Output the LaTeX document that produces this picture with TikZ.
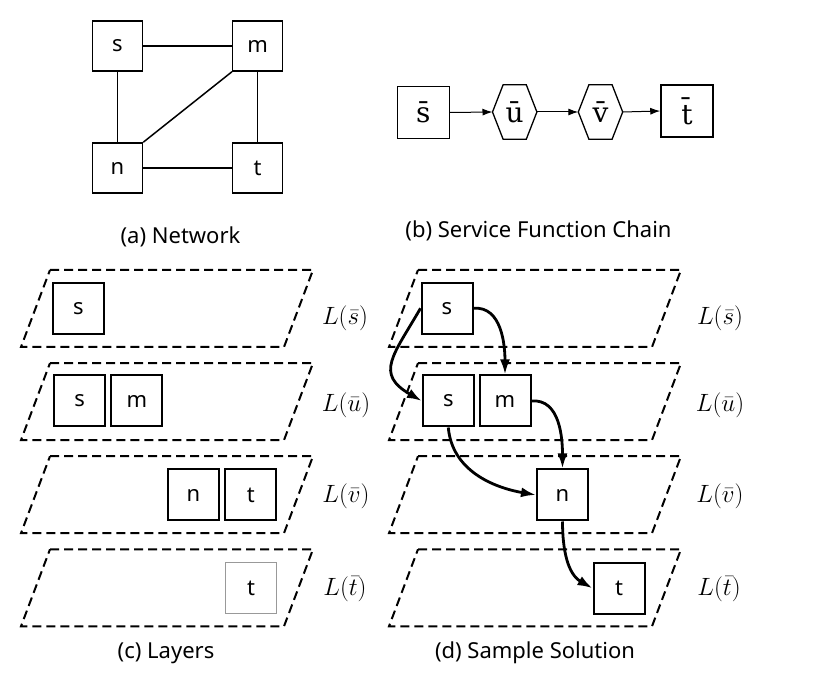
\RequirePackage{fix-cm}
\documentclass[tikz,border=0pt]{standalone}
\usepackage{fontspec}
\setmainfont{Noto Sans}
\newfontfamily\serifb{DejaVu Serif}
\usetikzlibrary{arrows.meta,calc}
\begin{document}
\begin{tikzpicture}[x=1pt,y=1pt,
  every node/.style={font=\fontsize{22}{26}\selectfont},
  netbox/.style={draw, line width=1.5pt, minimum width=50pt, minimum height=50pt, inner sep=0pt},
  netedge/.style={line width=1.5pt},
  sfcbox/.style={draw, line width=1.5pt, minimum width=52pt, minimum height=52pt, inner sep=0pt, font=\fontsize{28}{32}\selectfont\serifb},
  hexnode/.style={minimum width=44pt, minimum height=54pt, inner sep=0pt, font=\fontsize{28}{32}\selectfont\serifb},
  sfcarrow/.style={line width=1pt, -{Latex[length=10pt,width=7pt]}},
  layerbox/.style={draw, line width=2pt, minimum width=51pt, minimum height=51pt, inner sep=0pt},
  greybox/.style={draw=black!40, line width=1pt, minimum width=51pt, minimum height=51pt, inner sep=0pt},
  layer/.style={line width=2pt, dash pattern=on 9pt off 5pt},
  solarrow/.style={line width=2.8pt, -{Latex[length=15pt,width=10pt]}},
  laylabel/.style={font=\fontsize{25}{30}\selectfont},
]
\useasboundingbox (0,0) rectangle (831,-692);

% (a) Network
\node[netbox] (as) at (117.5,-46) {s};
\node[netbox] (am) at (257.7,-46) {m};
\node[netbox] (an) at (117.5,-168) {n};
\node[netbox] (at) at (257.7,-168) {t};
\draw[netedge] (as) -- (am);
\draw[netedge] (as) -- (an);
\draw[netedge] (am) -- (at);
\draw[netedge] (an) -- (at);
\draw[netedge] (an.north east) -- (am.south west);
\node (capa) at (180.5,-237) {(a) Network};

% (b) Service Function Chain
\node[sfcbox] (bs) at (423.3,-112.5) {\=s};
\node[hexnode] (bu) at (514.7,-112) {\=u};
\node[hexnode] (bv) at (600.5,-112) {\=v};
\node[sfcbox] (bt) at (687,-111) {\=t};
\foreach \h in {bu,bv}{
  \draw[line width=1.3pt] (\h.west) -- ($(\h.north west)+(10.6,0)$) -- ($(\h.north east)+(-10.6,0)$)
    -- (\h.east) -- ($(\h.south east)+(-10.6,0)$) -- ($(\h.south west)+(10.6,0)$) -- cycle;
}
\draw[sfcarrow] (bs.east) -- (bu.west);
\draw[sfcarrow] (bu.east) -- (bv.west);
\draw[sfcarrow] (bv.east) -- (bt.west);
\node (capb) at (538.5,-231) {(b) Service Function Chain};

% (c) Layers
\foreach \k in {0,1,2,3}{
  \pgfmathsetmacro{\tp}{-270-93.1*\k}
  \pgfmathsetmacro{\bt}{\tp-77}
  \draw[layer] (50,\tp) -- (313,\tp) -- (284,\bt) -- (21,\bt) -- cycle;
  \draw[layer] (418,\tp) -- (681,\tp) -- (652,\bt) -- (389,\bt) -- cycle;
}
\node[layerbox] (cs1) at (78.3,-308.3) {s};
\node[layerbox] (cs2) at (79.7,-401) {s};
\node[layerbox] (cm2) at (136.8,-401) {m};
\node[layerbox] (cn3) at (193.5,-495) {n};
\node[layerbox] (ct3) at (250.8,-495) {t};
\node[greybox] (ct4) at (251,-588.3) {t};
\node[laylabel] (cl1) at (345,-318) {$L(\bar{s})$};
\node[laylabel] (cl2) at (346,-405) {$L(\bar{u})$};
\node[laylabel] (cl3) at (346,-496) {$L(\bar{v})$};
\node[laylabel] (cl4) at (345,-589) {$L(\bar{t})$};
\node (capc) at (166,-653) {(c) Layers};

% (d) Sample Solution
\node[layerbox] (ds1) at (447,-308.3) {s};
\node[layerbox] (ds2) at (448.3,-401) {s};
\node[layerbox] (dm2) at (505,-401) {m};
\node[layerbox] (dn3) at (562.5,-495) {n};
\node[layerbox] (dt4) at (619,-588.3) {t};
\draw[solarrow] (ds1.west) to[out=240,in=150,looseness=1.5] (ds2.west);
\draw[solarrow] (ds1.east) to[out=5,in=90] (dm2.north);
\draw[solarrow] (dm2.east) to[out=5,in=90] (dn3.north);
\draw[solarrow] (ds2.south) to[out=-85,in=170] (dn3.west);
\draw[solarrow] (dn3.south) to[out=-90,in=150] (dt4.west);
\node[laylabel] (dl1) at (720,-318) {$L(\bar{s})$};
\node[laylabel] (dl2) at (720,-405) {$L(\bar{u})$};
\node[laylabel] (dl3) at (720,-496) {$L(\bar{v})$};
\node[laylabel] (dl4) at (719,-589) {$L(\bar{t})$};
\node (capd) at (535,-653) {(d) Sample Solution};
\end{tikzpicture}
\end{document}
